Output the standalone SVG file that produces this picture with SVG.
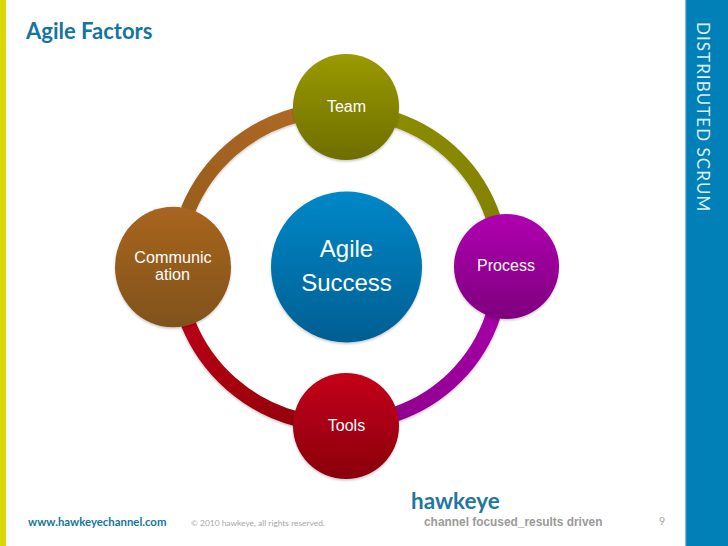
<svg xmlns="http://www.w3.org/2000/svg" width="728" height="546" viewBox="0 0 728 546">
<style>
.lbl{font-family:"Liberation Sans",Arial,sans-serif;fill:#fff;text-anchor:middle}
.cal{font-family:Lato,"Open Sans",sans-serif}
.arc{fill:none;stroke-width:15;filter:url(#sh)}
.node{filter:url(#sh)}
</style>
<defs>
<filter id="sh" x="-20%" y="-20%" width="140%" height="140%"><feDropShadow dx="0" dy="1.500" stdDeviation="1.200" flood-color="#000" flood-opacity=".22"/></filter>
<linearGradient id="gTeam" x1="0" y1="0" x2="0" y2="1"><stop offset="0" stop-color="#9a9a00"/><stop offset="1" stop-color="#6e6e00"/></linearGradient>
<linearGradient id="gProc" x1="0" y1="0" x2="0" y2="1"><stop offset="0" stop-color="#b000b0"/><stop offset="1" stop-color="#7e007e"/></linearGradient>
<linearGradient id="gTools" x1="0" y1="0" x2="0" y2="1"><stop offset="0" stop-color="#c40014"/><stop offset="1" stop-color="#8a0010"/></linearGradient>
<linearGradient id="gComm" x1="0" y1="0" x2="0" y2="1"><stop offset="0" stop-color="#a96520"/><stop offset="1" stop-color="#80521a"/></linearGradient>
<linearGradient id="gCore" x1="0" y1="0" x2="0" y2="1"><stop offset="0" stop-color="#0087c8"/><stop offset="1" stop-color="#005f92"/></linearGradient>
<linearGradient id="gA1" gradientUnits="userSpaceOnUse" x1="399" y1="113" x2="493" y2="215"><stop offset="0" stop-color="#8c8c00"/><stop offset="1" stop-color="#828200"/></linearGradient>
<linearGradient id="gA2" gradientUnits="userSpaceOnUse" x1="493" y1="318" x2="397" y2="413"><stop offset="0" stop-color="#a400a4"/><stop offset="1" stop-color="#900090"/></linearGradient>
<linearGradient id="gA3" gradientUnits="userSpaceOnUse" x1="188" y1="325" x2="295" y2="419"><stop offset="0" stop-color="#b80012"/><stop offset="1" stop-color="#950010"/></linearGradient>
<linearGradient id="gA4" gradientUnits="userSpaceOnUse" x1="188" y1="208" x2="295" y2="115"><stop offset="0" stop-color="#9a5e1e"/><stop offset="1" stop-color="#ad6822"/></linearGradient>
</defs>
<rect width="728" height="546" fill="#fff"/>
<rect x="0" y="0" width="6" height="546" fill="#dad70a"/>
<rect x="685" y="0" width="43" height="546" fill="#0080b6"/>
<rect x="685" y="0" width="1.200" height="546" fill="#7cc0de"/>
<text class="cal" x="26" y="39" font-size="22" font-weight="700" fill="#14759f">Agile Factors</text>
<text class="cal" transform="translate(697,22) rotate(90)" font-size="17" letter-spacing="1.050" fill="#d8eef8">DISTRIBUTED SCRUM</text>
<g id="connectors">
<path class="arc" stroke="url(#gA1)" d="M396 120A156 156 0 0 1 493 217"/>
<path class="arc" stroke="url(#gA2)" d="M493 316A156 156 0 0 1 396 414"/>
<path class="arc" stroke="url(#gA3)" d="M188 323A162 162 0 0 0 297 419"/>
<path class="arc" stroke="url(#gA4)" d="M188 210A162 162 0 0 1 297 115"/>
</g>
<g id="node-team"><circle class="node" cx="346" cy="107" r="53" fill="url(#gTeam)"/><text class="lbl" x="346.500" y="112" font-size="16">Team</text></g>
<g id="node-process"><circle class="node" cx="506.500" cy="266.500" r="52.500" fill="url(#gProc)"/><text class="lbl" x="506" y="271" font-size="16">Process</text></g>
<g id="node-tools"><circle class="node" cx="346" cy="426" r="53" fill="url(#gTools)"/><text class="lbl" x="346.500" y="431" font-size="16">Tools</text></g>
<g id="node-communication"><ellipse class="node" cx="173" cy="267" rx="58" ry="60.300" fill="url(#gComm)"/><text class="lbl" x="173" y="263" font-size="16.200">Communic</text><text class="lbl" x="172.500" y="280" font-size="16.200">ation</text></g>
<g id="node-core"><circle class="node" cx="346.500" cy="267" r="75.500" fill="url(#gCore)"/><text class="lbl" x="346.500" y="257" font-size="24">Agile</text><text class="lbl" x="346.500" y="291" font-size="24">Success</text></g>
<text class="cal" x="28" y="526" font-size="11.400" font-weight="700" fill="#14759f">www.hawkeyechannel.com</text>
<text class="cal" x="191" y="526" font-size="8.400" fill="#a6a6a6">© 2010 hawkeye, all rights reserved.</text>
<text class="cal" x="411" y="509" font-size="22.500" font-weight="700" fill="#23779f">hawkeye</text>
<text x="424" y="526" font-family="'Liberation Sans',sans-serif" font-size="11.900" font-weight="700" fill="#9a9a9a">channel focused_results driven</text>
<text class="cal" x="659" y="525" font-size="10.500" fill="#a6a6a6">9</text>
</svg>
